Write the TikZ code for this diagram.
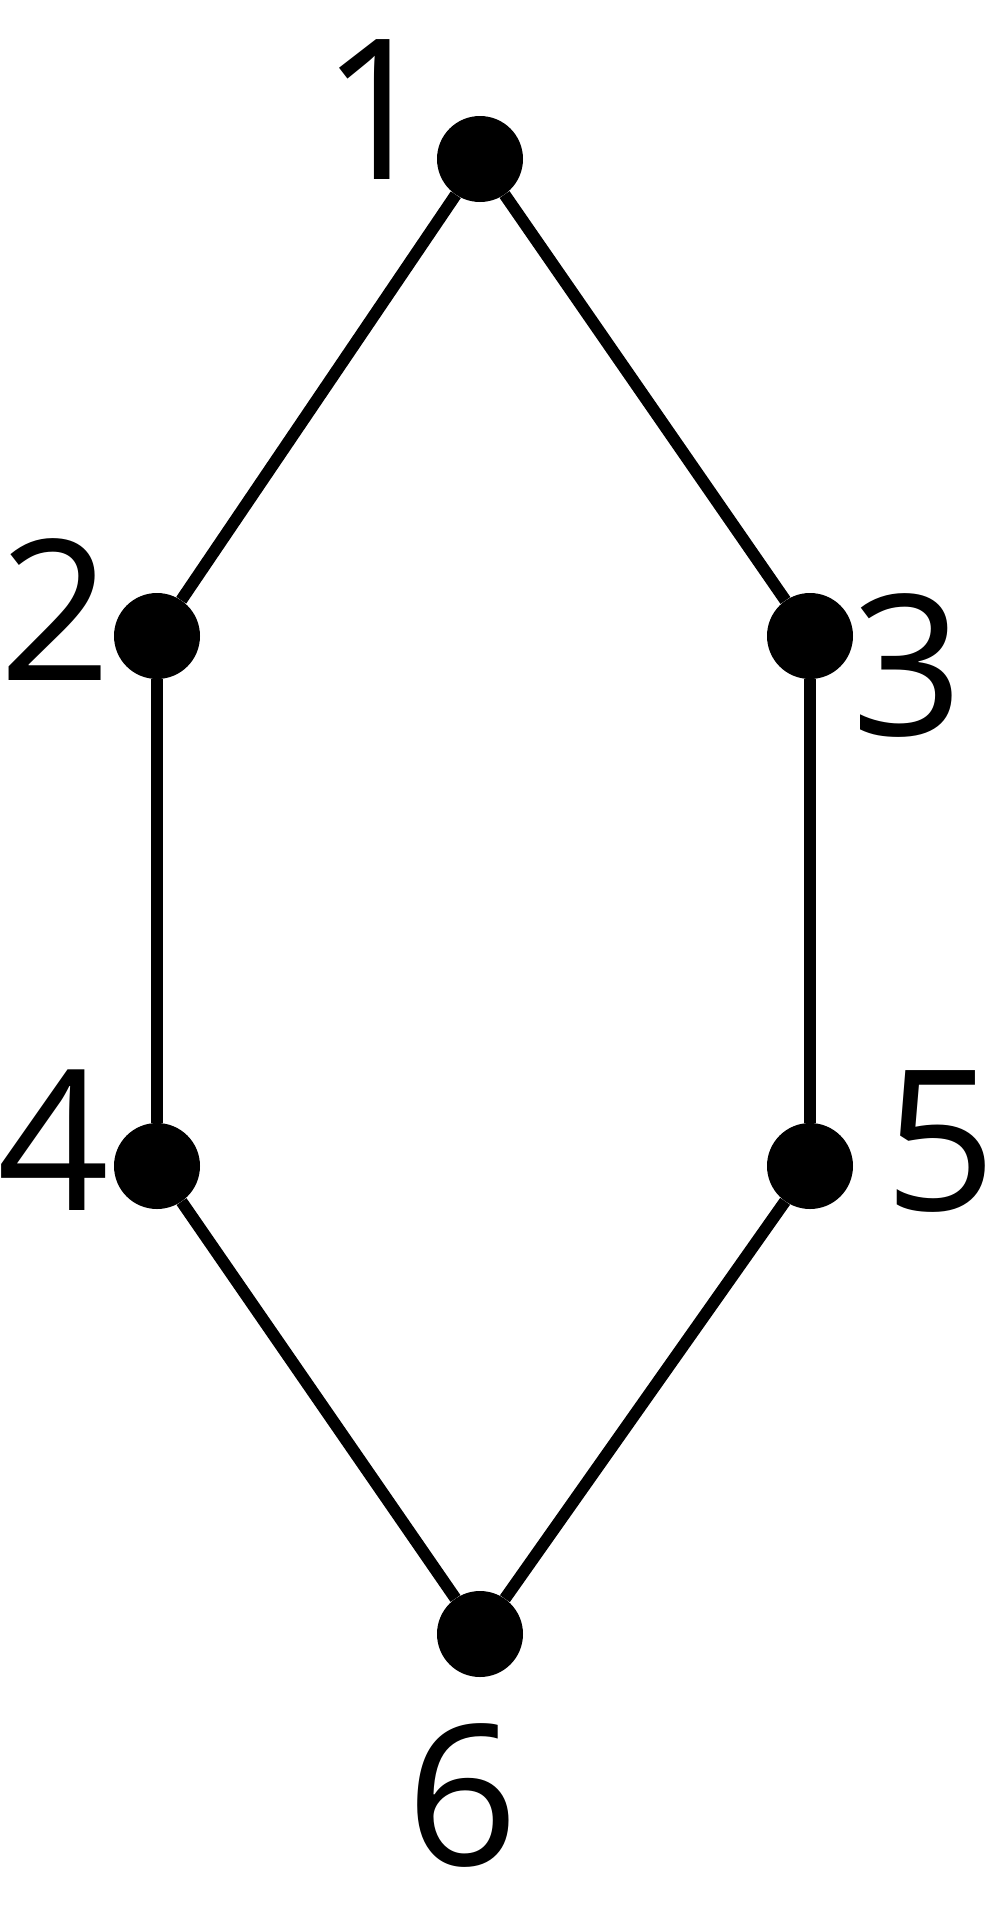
\documentclass[tikz,border=0pt]{standalone}
\usepackage{fontspec}
\setmainfont{Open Sans}
\usetikzlibrary{positioning}

\begin{document}
\begin{tikzpicture}[
	  x=1pt, y=-1pt,
	  vertex/.style={circle, fill=black, inner sep=0pt, minimum size=86pt},
	  lbl/.style={inner sep=0pt, font=\fontsize{196}{196}\selectfont},
	  edge/.style={line width=12pt}
	]
	\useasboundingbox (0,0) rectangle (998,1920);

	% Vertices
	\node[vertex] (v1) at (480,159) {};
	\node[vertex] (v2) at (157,636) {};
	\node[vertex] (v3) at (810,636) {};
	\node[vertex] (v4) at (157,1166) {};
	\node[vertex] (v5) at (810,1166) {};
	\node[vertex] (v6) at (480,1634) {};

	% Labels
	\node[lbl] (l1) at (378,110) {1};
	\node[lbl] (l2) at (56,610) {2};
	\node[lbl] (l3) at (908,665) {3};
	\node[lbl] (l4) at (54,1140) {4};
	\node[lbl] (l5) at (941,1141) {5};
	\node[lbl] (l6) at (463,1795) {6};

	% Edges
	\draw[edge] (v1) -- (v2);
	\draw[edge] (v1) -- (v3);
	\draw[edge] (v2) -- (v4);
	\draw[edge] (v3) -- (v5);
	\draw[edge] (v4) -- (v6);
	\draw[edge] (v5) -- (v6);

	\end{tikzpicture}
\end{document}
